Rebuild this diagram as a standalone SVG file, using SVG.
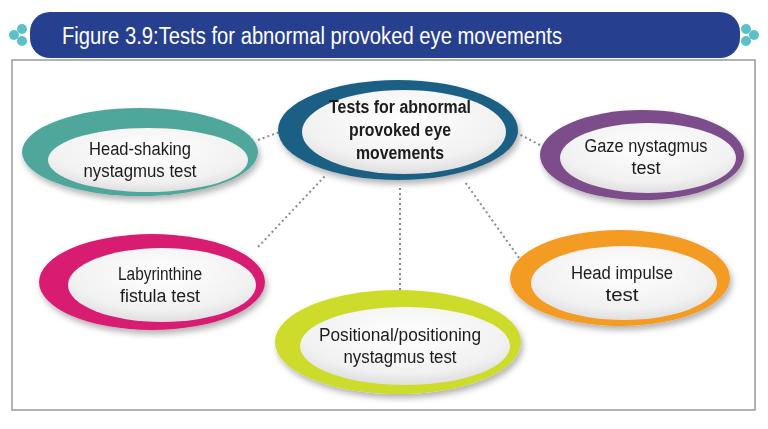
<svg xmlns="http://www.w3.org/2000/svg" width="768" height="429" viewBox="0 0 768 429">
<defs>
<radialGradient id="w" cx="0.5" cy="0.35" r="0.7"><stop offset="0" stop-color="#ffffff"/><stop offset="0.7" stop-color="#f1f1f1"/><stop offset="1" stop-color="#d9d9d9"/></radialGradient>
<filter id="sh" x="-20%" y="-20%" width="140%" height="150%"><feDropShadow dx="2" dy="4" stdDeviation="3" flood-color="#000" flood-opacity="0.3"/></filter>
</defs>
<style>
.t{font-family:"Liberation Sans",Arial,sans-serif;font-size:18px;fill:#1a1a1a;text-anchor:middle}
.b{font-weight:bold}
.in{fill:url(#w)}
.c line{stroke:#8a8a8a;stroke-width:2;stroke-dasharray:2 3}
</style>
<rect x="0" y="0" width="768" height="429" fill="#fff"/>
<rect x="12" y="60" width="743" height="350" fill="#fff" stroke="#999" stroke-width="1.5"/>
<g id="banner">
<rect x="30" y="12" width="710" height="46" rx="20" fill="#263F8E"/>
<text x="62" y="44" font-family="Liberation Sans,sans-serif" font-size="23" fill="#fff" textLength="500" lengthAdjust="spacingAndGlyphs">Figure 3.9:Tests for abnormal provoked eye movements</text>
<circle cx="14" cy="35" r="5" fill="#5cc0c8"/><circle cx="22" cy="29" r="5" fill="#5cc0c8"/><circle cx="22" cy="41" r="5" fill="#5cc0c8"/>
<circle cx="754" cy="35" r="5" fill="#5cc0c8"/><circle cx="746" cy="29" r="5" fill="#5cc0c8"/><circle cx="746" cy="41" r="5" fill="#5cc0c8"/>
</g>
<g class="c" id="connectors">
<line x1="258" y1="140" x2="285" y2="130"/>
<line x1="540" y1="145" x2="515" y2="132"/>
<line x1="258" y1="247" x2="325" y2="176"/>
<line x1="400" y1="290" x2="400" y2="186"/>
<line x1="522" y1="262" x2="465" y2="182"/>
</g>
<g id="center" filter="url(#sh)">
<ellipse cx="398" cy="130" rx="120" ry="50" fill="#1f5f84"/>
<ellipse class="in" cx="404" cy="132" rx="102" ry="42"/>
<text class="t b" x="400" y="113" textLength="142" lengthAdjust="spacingAndGlyphs">Tests for abnormal</text>
<text class="t b" x="400" y="136" textLength="102" lengthAdjust="spacingAndGlyphs">provoked eye</text>
<text class="t b" x="400" y="159" textLength="88" lengthAdjust="spacingAndGlyphs">movements</text>
</g>
<g id="headshaking" filter="url(#sh)">
<ellipse cx="140" cy="152" rx="118" ry="44" fill="#4fa79c"/>
<ellipse class="in" cx="148" cy="160" rx="100" ry="32"/>
<text class="t" x="140" y="155" textLength="102" lengthAdjust="spacingAndGlyphs">Head-shaking</text>
<text class="t" x="140" y="177" textLength="113" lengthAdjust="spacingAndGlyphs">nystagmus test</text>
</g>
<g id="gaze" filter="url(#sh)">
<ellipse cx="642" cy="155" rx="102" ry="45" fill="#7b4d8a"/>
<ellipse class="in" cx="648" cy="158" rx="88" ry="35"/>
<text class="t" x="646" y="152" textLength="123" lengthAdjust="spacingAndGlyphs">Gaze nystagmus</text>
<text class="t" x="646" y="174">test</text>
</g>
<g id="labyrinthine" filter="url(#sh)">
<ellipse cx="152" cy="282" rx="113" ry="48" fill="#d81e72"/>
<ellipse class="in" cx="162" cy="285" rx="94" ry="37"/>
<text class="t" x="160" y="280" textLength="84" lengthAdjust="spacingAndGlyphs">Labyrinthine</text>
<text class="t" x="160" y="302" textLength="80" lengthAdjust="spacingAndGlyphs">fistula test</text>
</g>
<g id="positional" filter="url(#sh)">
<ellipse cx="398" cy="342" rx="123" ry="52" fill="#cddc2a"/>
<ellipse class="in" cx="405" cy="346" rx="105" ry="39"/>
<text class="t" x="400" y="341" textLength="162" lengthAdjust="spacingAndGlyphs">Positional/positioning</text>
<text class="t" x="400" y="363" textLength="113" lengthAdjust="spacingAndGlyphs">nystagmus test</text>
</g>
<g id="headimpulse" filter="url(#sh)">
<ellipse cx="620" cy="278" rx="110" ry="48" fill="#f39b24"/>
<ellipse class="in" cx="624" cy="283" rx="93" ry="37"/>
<text class="t" x="622" y="279" textLength="102" lengthAdjust="spacingAndGlyphs">Head impulse</text>
<text class="t" x="622" y="301" textLength="33" lengthAdjust="spacingAndGlyphs">test</text>
</g>
</svg>
